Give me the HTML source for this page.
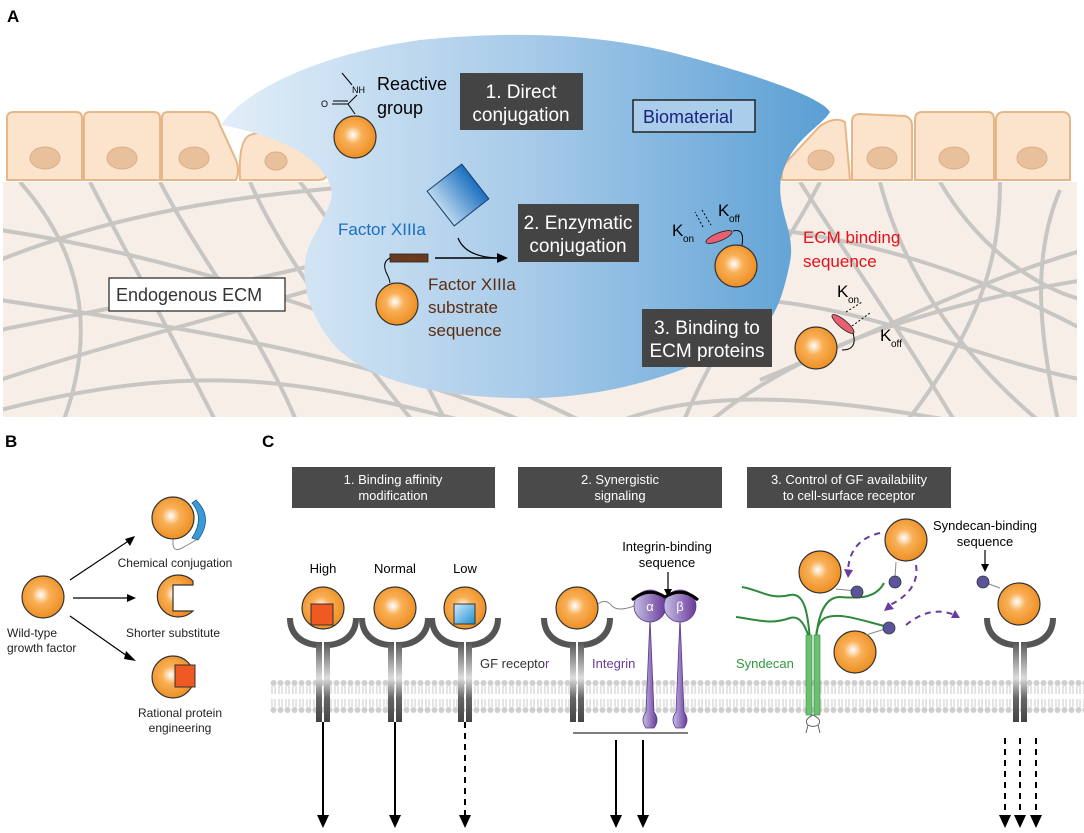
<!DOCTYPE html>
<html><head><meta charset="utf-8"><style>
body{margin:0;background:#fff}
svg{display:block;font-family:"Liberation Sans",sans-serif}
</style></head><body>
<svg width="1084" height="833" viewBox="0 0 1084 833" xmlns="http://www.w3.org/2000/svg">
<defs>
<radialGradient id="ball" cx="0.45" cy="0.45" r="0.6">
<stop offset="0" stop-color="#fff"/><stop offset="0.35" stop-color="#f9b057"/><stop offset="1" stop-color="#ec8a1c"/></radialGradient>
<linearGradient id="blob" x1="0" y1="0" x2="1" y2="0">
<stop offset="0" stop-color="#e2eef8"/><stop offset="0.5" stop-color="#a8cbe9"/><stop offset="1" stop-color="#5a9fd4"/></linearGradient>
<linearGradient id="dia" x1="0" y1="0" x2="1" y2="0">
<stop offset="0" stop-color="#bcd8ef"/><stop offset="1" stop-color="#1a6fbf"/></linearGradient>
<linearGradient id="rec" x1="0" y1="0" x2="0" y2="1">
<stop offset="0" stop-color="#555"/><stop offset="0.45" stop-color="#ddd"/><stop offset="0.7" stop-color="#666"/><stop offset="1" stop-color="#444"/></linearGradient>
<linearGradient id="low" x1="0" y1="0" x2="1" y2="1"><stop offset="0" stop-color="#d4ecfa"/><stop offset="1" stop-color="#1e8fd2"/></linearGradient>
<linearGradient id="purp" x1="0" y1="0" x2="1" y2="0"><stop offset="0" stop-color="#c6c0e4"/><stop offset="1" stop-color="#6a3a9a"/></linearGradient>
<pattern id="lipid" x="270" y="680" width="7" height="33" patternUnits="userSpaceOnUse">
<circle cx="3.5" cy="3" r="3" fill="#cfcfcf"/><circle cx="3.5" cy="30" r="3" fill="#cfcfcf"/>
<path d="M2,6 L2,14 M5,6 L5,14 M2,19 L2,27 M5,19 L5,27" stroke="#bbb" stroke-width="0.8"/>
</pattern>
<clipPath id="ecm"><rect x="3" y="182" width="1074" height="235"/></clipPath>
<g id="gf"><circle r="21" fill="url(#ball)" stroke="#333" stroke-width="1.2"/></g>
<g id="recp">
<path d="M-30,10 C-30,28 -14,34 -4,34 L-4,40 C-18,40 -36,32 -36,10 Z" fill="#555"/>
<path d="M30,10 C30,28 14,34 4,34 L4,40 C18,40 36,32 36,10 Z" fill="#555"/>
<rect x="-7" y="34" width="6" height="80" fill="url(#rec)"/>
<rect x="1" y="34" width="6" height="80" fill="url(#rec)"/>
</g>
</defs>

<!-- Panel A -->
<text x="7" y="22" font-size="17" font-weight="bold">A</text>
<rect x="3" y="182" width="1074" height="235" fill="#f7eee7"/>
<g clip-path="url(#ecm)" fill="none" stroke="#c4c2c0" stroke-width="4" opacity="0.9">
<path d="M0,230 C200,260 400,330 620,440"/>
<path d="M0,260 C150,200 300,190 420,182"/>
<path d="M90,182 C130,260 180,350 220,430"/>
<path d="M160,182 C200,260 260,330 300,430"/>
<path d="M0,330 C200,290 380,260 520,200"/>
<path d="M0,380 C150,330 300,300 500,230"/>
<path d="M0,300 C200,330 380,360 520,420"/>
<path d="M20,182 C80,250 100,330 60,430"/>
<path d="M250,182 C280,250 330,320 420,430"/>
<path d="M0,410 C200,360 300,380 460,420"/>
<path d="M300,182 C360,260 400,330 450,430"/>
<path d="M780,230 C850,240 950,260 1084,330"/>
<path d="M800,182 C850,260 900,330 960,430"/>
<path d="M880,182 C900,260 950,350 1050,430"/>
<path d="M760,300 C880,310 980,360 1084,380"/>
<path d="M1000,182 C1000,260 980,330 900,430"/>
<path d="M760,380 C880,330 980,280 1084,250"/>
<path d="M940,182 C980,250 1040,290 1084,300"/>
<path d="M700,430 C780,360 900,310 1084,280"/>
<path d="M1060,190 C1030,260 1040,340 1060,430"/>
<path d="M820,182 C780,260 720,330 680,430"/>
<path d="M600,430 C700,380 850,400 1000,430"/>
</g>
<!-- cells -->
<g fill="#fbe3cc" stroke="#e6b687" stroke-width="2">
<path d="M7,118 Q7,112 14,112 L76,112 Q82,112 82,118 L82,180 L7,180 Z"/>
<path d="M84,118 Q84,112 90,112 L154,112 Q160,112 160,118 L160,180 L84,180 Z"/>
<path d="M162,118 Q162,112 168,112 L208,112 Q216,112 220,125 L236,160 Q240,170 236,180 L162,180 Z"/>
<path d="M240,180 Q238,140 250,135 Q268,128 290,142 Q320,158 326,172 Q328,180 318,180 Z"/>
<path d="M782,180 Q780,168 790,158 L820,126 Q835,116 845,122 L850,180 Z"/>
<path d="M852,122 Q852,114 860,114 L905,116 Q912,118 912,126 L912,180 L852,180 Z"/>
<path d="M915,120 Q915,112 922,112 L988,112 Q994,112 994,120 L994,180 L915,180 Z"/>
<path d="M996,120 Q996,112 1004,112 L1062,112 Q1070,112 1070,120 L1070,180 L996,180 Z"/>
</g>
<g fill="#e8c19c" stroke="#dcae83" stroke-width="1">
<ellipse cx="45" cy="158" rx="15" ry="11"/><ellipse cx="122" cy="158" rx="15" ry="11"/>
<ellipse cx="194" cy="158" rx="15" ry="11"/><ellipse cx="276" cy="161" rx="11" ry="9"/>
<ellipse cx="821" cy="160" rx="13" ry="10"/><ellipse cx="882" cy="158" rx="15" ry="11"/>
<ellipse cx="954" cy="158" rx="15" ry="11"/><ellipse cx="1032" cy="158" rx="15" ry="11"/>
</g>
<!-- biomaterial blob -->
<path d="M221,125 C240,95 310,55 420,40 C520,30 600,35 670,52 C740,70 820,95 830,112 C820,128 790,140 781,178 C776,210 796,232 790,262 C784,292 776,318 760,330 C700,370 620,395 540,398 C440,400 360,380 330,340 C300,300 300,262 312,240 C325,215 336,198 330,185 C318,150 260,132 221,125 Z" fill="url(#blob)"/>
<!-- reactive group -->
<path d="M342,73 L352,85 M357,95 L348,104 L355,114 M348,104 L332,104 M333,101 L348,101" stroke="#000" stroke-width="1" fill="none"/>
<text x="352" y="93" font-size="9">NH</text>
<text x="321" y="107" font-size="9">O</text>
<use href="#gf" x="355" y="137"/>
<text x="377" y="90" font-size="18">Reactive</text>
<text x="377" y="114" font-size="18">group</text>
<rect x="460" y="73" width="123" height="57" fill="#444"/>
<text x="521" y="98" font-size="19" fill="#fff" text-anchor="middle">1. Direct</text>
<text x="521" y="121" font-size="19" fill="#fff" text-anchor="middle">conjugation</text>
<rect x="633" y="100" width="122" height="32" fill="#a9cdea" stroke="#222" stroke-width="1.5"/>
<text x="643" y="123" font-size="18" fill="#1a237e">Biomaterial</text>
<!-- enzymatic -->
<rect x="-22" y="-22" width="44" height="44" fill="url(#dia)" stroke="#1a3f6f" stroke-width="1" transform="translate(458,195) rotate(-38)"/>
<text x="338" y="235" font-size="17" fill="#1a6fbf">Factor XIIIa</text>
<rect x="390" y="254" width="38" height="8" fill="#6b3a1e" stroke="#222" stroke-width="0.8"/>
<path d="M390,258 Q382,262 386,272 Q390,280 390,283" stroke="#000" fill="none" stroke-width="1"/>
<use href="#gf" x="397" y="304"/>
<path d="M435,258 L500,258" stroke="#000" stroke-width="1.5"/>
<path d="M458,238 Q465,256 495,258" stroke="#000" stroke-width="1.2" fill="none"/>
<path d="M508,258 L497,253 L497,263 Z" fill="#000"/>
<text x="428" y="290" font-size="17" fill="#5a2d12">Factor XIIIa</text>
<text x="428" y="313" font-size="17" fill="#5a2d12">substrate</text>
<text x="428" y="336" font-size="17" fill="#5a2d12">sequence</text>
<rect x="518" y="204" width="121" height="58" fill="#444"/>
<text x="578" y="229" font-size="19" fill="#fff" text-anchor="middle">2. Enzymatic</text>
<text x="578" y="252" font-size="19" fill="#fff" text-anchor="middle">conjugation</text>
<!-- ECM binding -->
<ellipse cx="719" cy="237" rx="14" ry="4" fill="#e86070" stroke="#222" stroke-width="0.8" transform="rotate(-22 719 237)"/>
<path d="M733,231 Q745,228 742,245" stroke="#000" fill="none" stroke-width="1"/>
<use href="#gf" x="736" y="266"/>
<path d="M703,227 L695,212 M702,210 L711,225" stroke="#000" stroke-width="1" stroke-dasharray="2,2"/>
<text x="672" y="236" font-size="17">K</text><text x="683" y="242" font-size="10">on</text>
<text x="718" y="216" font-size="17">K</text><text x="729" y="222" font-size="10">off</text>
<text x="803" y="243" font-size="17" fill="#e8101a">ECM  binding</text>
<text x="803" y="267" font-size="17" fill="#e8101a">sequence</text>
<rect x="642" y="309" width="130" height="58" fill="#444"/>
<text x="707" y="334" font-size="19" fill="#fff" text-anchor="middle">3. Binding to</text>
<text x="707" y="357" font-size="19" fill="#fff" text-anchor="middle">ECM proteins</text>
<ellipse cx="843" cy="324" rx="14" ry="4" fill="#e86070" stroke="#222" stroke-width="0.8" transform="rotate(40 843 324)"/>
<path d="M853,333 Q858,350 842,350" stroke="#000" fill="none" stroke-width="1"/>
<use href="#gf" x="816" y="348"/>
<path d="M846,312 L862,302 M852,326 L870,313" stroke="#000" stroke-width="1" stroke-dasharray="2,2"/>
<text x="837" y="297" font-size="17">K</text><text x="848" y="303" font-size="10">on</text>
<text x="880" y="341" font-size="17">K</text><text x="891" y="347" font-size="10">off</text>
<rect x="109" y="278" width="176" height="33" fill="#fff" stroke="#222" stroke-width="1.2"/>
<text x="116" y="301" font-size="18" fill="#333">Endogenous ECM</text>

<!-- Panel B -->
<text x="5" y="447" font-size="17" font-weight="bold">B</text>
<text x="262" y="447" font-size="17" font-weight="bold">C</text>
<use href="#gf" x="43" y="597"/>
<text x="7" y="637" font-size="12" fill="#222">Wild-type</text>
<text x="7" y="652" font-size="12" fill="#222">growth factor</text>
<g stroke="#000" stroke-width="1.2"><path d="M70,580 L130,540"/><path d="M73,598 L130,598"/><path d="M70,616 L130,658"/></g>
<path d="M135,536 L125,539 L130,546 Z M136,598 L127,594 L127,602 Z M136,661 L126,651 L124,659 Z" fill="#000"/>
<use href="#gf" x="173" y="518"/>
<path d="M196,500 Q214,518 198,540 L192,538 Q205,518 192,503 Z" fill="#3a9ad8" stroke="#1a5a8a" stroke-width="0.8"/>
<path d="M173,540 Q172,552 180,549 Q188,545 196,540" stroke="#888" fill="none"/>
<text x="175" y="567" font-size="12" text-anchor="middle" fill="#222">Chemical conjugation</text>
<path d="M193,581 A21,21 0 1 0 193,611 L173,611 L173,585 L193,585 Z" fill="url(#ball)" stroke="#333" stroke-width="1.2"/>
<text x="173" y="637" font-size="12" text-anchor="middle" fill="#222">Shorter substitute</text>
<use href="#gf" x="173" y="677"/>
<rect x="175" y="665" width="20" height="22" fill="#ee5a22" stroke="#333" stroke-width="1"/>
<text x="180" y="717" font-size="12" text-anchor="middle" fill="#222">Rational protein</text>
<text x="180" y="732" font-size="12" text-anchor="middle" fill="#222">engineering</text>

<!-- Panel C boxes -->
<rect x="292" y="467" width="203" height="41" fill="#4a4a4a"/>
<text x="393" y="484" font-size="13" fill="#fff" text-anchor="middle">1. Binding affinity</text>
<text x="393" y="500" font-size="13" fill="#fff" text-anchor="middle">modification</text>
<rect x="518" y="467" width="204" height="41" fill="#4a4a4a"/>
<text x="620" y="484" font-size="13" fill="#fff" text-anchor="middle">2. Synergistic</text>
<text x="620" y="500" font-size="13" fill="#fff" text-anchor="middle">signaling</text>
<rect x="747" y="467" width="204" height="41" fill="#4a4a4a"/>
<text x="849" y="484" font-size="13" fill="#fff" text-anchor="middle">3. Control of GF availability</text>
<text x="849" y="500" font-size="13" fill="#fff" text-anchor="middle">to cell-surface receptor</text>

<!-- membrane -->
<rect x="270" y="680" width="814" height="33" fill="url(#lipid)"/>

<text x="323" y="573" font-size="13" text-anchor="middle">High</text>
<text x="395" y="573" font-size="13" text-anchor="middle">Normal</text>
<text x="465" y="573" font-size="13" text-anchor="middle">Low</text>
<use href="#recp" x="323" y="608"/><use href="#recp" x="395" y="608"/><use href="#recp" x="465" y="608"/>
<use href="#recp" x="577" y="608"/><use href="#recp" x="1020" y="608"/>
<use href="#gf" x="323" y="608"/><use href="#gf" x="395" y="608"/><use href="#gf" x="465" y="608"/>
<use href="#gf" x="577" y="608"/><use href="#gf" x="1019" y="604"/>
<rect x="311" y="604" width="22" height="21" fill="#ee5a22" stroke="#333"/>
<rect x="454" y="604" width="21" height="20" fill="url(#low)" stroke="#333"/>
<text x="480" y="668" font-size="13" fill="#333">GF recepto<tspan fill="#6a3a9a">r</tspan></text>
<text x="592" y="668" font-size="13" fill="#6a3a9a">Integrin</text>
<text x="736" y="668" font-size="13" fill="#2e9a3a">Syndecan</text>

<!-- integrin -->
<path d="M598,604 Q606,598 612,606 Q618,612 634,606" stroke="#888" fill="none"/>
<g fill="url(#purp)" stroke="#5a3a8a" stroke-width="0.8">
<path d="M650,618 L646,712 Q640,720 646,728 L654,728 Q660,720 654,712 Z"/>
<circle cx="650" cy="606" r="16"/>
<path d="M680,618 L676,712 Q670,720 676,728 L684,728 Q690,720 684,712 Z"/>
<circle cx="680" cy="606" r="16"/>
</g>
<text x="650" y="611" font-size="13" fill="#fff" text-anchor="middle">α</text>
<text x="680" y="611" font-size="13" fill="#fff" text-anchor="middle">β</text>
<path d="M632,600 Q648,586 665,597 Q682,586 698,600" stroke="#000" stroke-width="3" fill="none"/>
<text x="667" y="551" font-size="13" text-anchor="middle">Integrin-binding</text>
<text x="667" y="567" font-size="13" text-anchor="middle">sequence</text>
<path d="M668,572 L668,592" stroke="#000" stroke-width="1.2"/><path d="M668,597 L664,589 L672,589 Z"/>
<line x1="573" y1="733" x2="688" y2="733" stroke="#555" stroke-width="1.5"/>

<!-- syndecan -->
<g fill="none" stroke="#2e8a3a" stroke-width="2">
<path d="M742,587 C760,590 770,600 790,595 C805,592 808,615 810,640"/>
<path d="M736,617 C760,620 770,625 790,618 C800,615 805,625 810,640"/>
<path d="M884,583 C875,600 855,598 840,597 C825,597 818,615 816,640"/>
<path d="M888,627 C860,620 840,612 825,618 C818,622 816,630 816,640"/>
</g>
<rect x="806" y="635" width="6" height="80" fill="#6cc070" stroke="#2e8a3a" stroke-width="0.6"/>
<rect x="814" y="635" width="6" height="80" fill="#6cc070" stroke="#2e8a3a" stroke-width="0.6"/>
<path d="M813,715 Q803,720 808,725 Q813,728 818,725 Q823,720 813,715 M808,725 L806,733 M818,725 L820,733" stroke="#666" fill="none"/>
<use href="#gf" x="820" y="572"/><use href="#gf" x="906" y="540"/><use href="#gf" x="855" y="652"/>
<g stroke="#888"><path d="M836,589 L856,591"/><path d="M896,562 L895,578"/><path d="M866,635 L888,628"/><path d="M986,583 L1000,588"/></g>
<g fill="#5a559a" stroke="#333" stroke-width="0.8">
<circle cx="857" cy="592" r="6"/><circle cx="895" cy="582" r="6"/><circle cx="889" cy="628" r="6"/><circle cx="983" cy="582" r="6"/></g>
<g fill="none" stroke="#6a3aa0" stroke-width="2" stroke-dasharray="6,5">
<path d="M880,533 Q850,540 848,570"/><path d="M916,565 Q920,590 890,605"/><path d="M906,625 Q930,605 955,615"/></g>
<g fill="#6a3aa0"><path d="M848,578 L844,569 L853,570 Z"/><path d="M884,611 L888,602 L894,609 Z"/><path d="M960,618 L951,618 L955,610 Z"/></g>
<text x="985" y="530" font-size="13" text-anchor="middle">Syndecan-binding</text>
<text x="985" y="546" font-size="13" text-anchor="middle">sequence</text>
<path d="M985,550 L985,566" stroke="#000" stroke-width="1.2"/><path d="M985,572 L981,564 L989,564 Z"/>

<!-- signaling arrows -->
<g stroke="#000" stroke-width="2">
<line x1="323" y1="722" x2="323" y2="815"/><line x1="395" y1="722" x2="395" y2="815"/>
<line x1="616" y1="740" x2="616" y2="815"/><line x1="643" y1="740" x2="643" y2="815"/>
</g>
<g stroke="#000" stroke-width="2" stroke-dasharray="6,5">
<line x1="465" y1="722" x2="465" y2="815"/>
<line x1="1005" y1="738" x2="1005" y2="815"/><line x1="1020" y1="738" x2="1020" y2="815"/><line x1="1036" y1="738" x2="1036" y2="815"/>
</g>
<g fill="#000">
<path d="M317,815 L329,815 L323,828 Z"/><path d="M389,815 L401,815 L395,828 Z"/><path d="M459,815 L471,815 L465,828 Z"/>
<path d="M610,815 L622,815 L616,828 Z"/><path d="M637,815 L649,815 L643,828 Z"/>
<path d="M999,815 L1011,815 L1005,828 Z"/><path d="M1014,815 L1026,815 L1020,828 Z"/><path d="M1030,815 L1042,815 L1036,828 Z"/>
</g>
</svg>
</body></html>
